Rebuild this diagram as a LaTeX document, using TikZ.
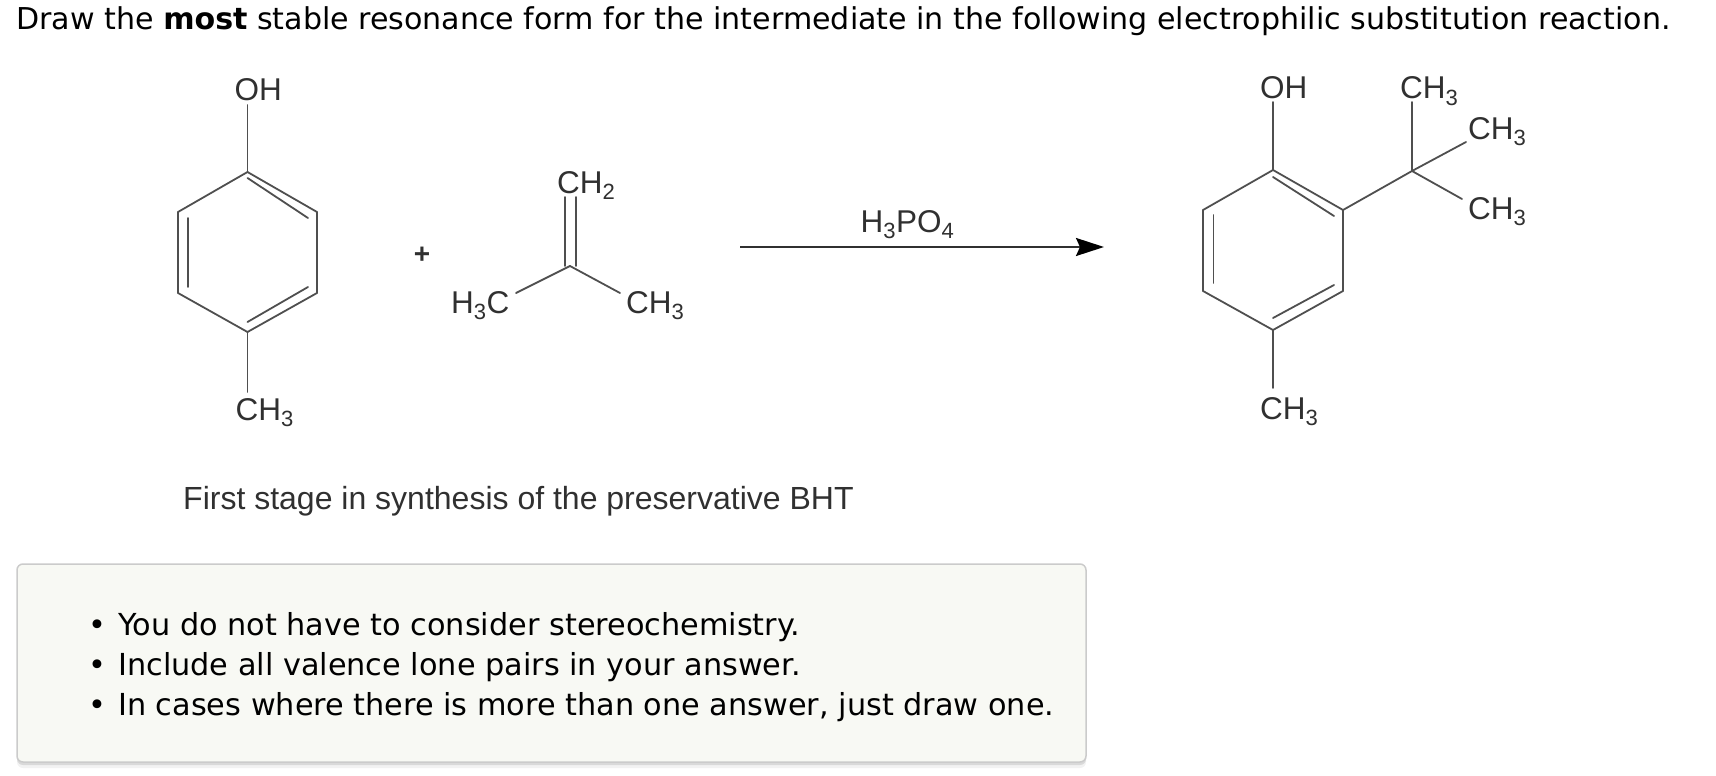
\documentclass[tikz,border=0pt]{standalone}
\usepackage{fontspec}
\setmainfont{DejaVu Sans}
\newfontfamily\chemfamily{Liberation Sans}
\usetikzlibrary{arrows.meta,shadows}
\definecolor{chemgray}{HTML}{303030}
\definecolor{panelfill}{HTML}{F8F9F4}
\definecolor{panelline}{HTML}{CBCBCB}
\tikzstyle{bond} = [draw, line width=1.8pt, -, chemgray!85, line cap=round]
\tikzstyle{chemlabel} = [anchor=base west, inner sep=0pt, text=chemgray, font=\chemfamily\fontsize{31.5}{36}\selectfont]
\tikzstyle{bodytext} = [anchor=base west, inner sep=0pt, text=black, font=\fontsize{30.3}{36}\selectfont]
\tikzstyle{panel} = [draw=panelline, line width=1.5pt, fill=panelfill, rounded corners=6pt, drop shadow={shadow xshift=0pt, shadow yshift=-6pt, opacity=0.05, fill=black}, drop shadow={shadow xshift=0pt, shadow yshift=-3pt, opacity=0.10, fill=black}]
\begin{document}
\begin{tikzpicture}[x=1pt,y=-1pt]
       \useasboundingbox (0,0) rectangle (1716,776);
       % panel and texts
       \path[panel] (17,564) rectangle (1086,762);
       \node[bodytext, font=\fontsize{30.08}{36}\selectfont] (title) at (16,30) {Draw the \textbf{most} stable resonance form for the intermediate in the following electrophilic substitution reaction.};
       \node[chemlabel, font=\chemfamily\fontsize{32}{36}\selectfont] (caption) at (183,509) {First stage in synthesis of the preservative BHT};
       \foreach \pos/\name/\txt in {{(118,635)/hinta/You do not have to consider stereochemistry.}, {(118,675)/hintb/Include all valence lone pairs in your answer.}, {(118,715)/hintc/In cases where there is more than one answer{,} just draw one.}} {
           \node[bodytext] (\name) at \pos {\txt};
           \node[bodytext, anchor=base east] (\name dot) at ([xshift=-11pt]\name.base west) {•};
       }
       % atom labels
       \foreach \pos/\name/\txt in {{(234.5,100)/ohleft/OH}, {(235.5,420)/meleft/CH\textsubscript{3}}, {(557,193)/methylene/CH\textsubscript{2}}, {(451,313)/mea/H\textsubscript{3}C}, {(626,313)/meb/CH\textsubscript{3}}, {(860.5,232)/acid/H\textsubscript{3}PO\textsubscript{4}}, {(1260,99)/ohright/OH}, {(1400,99)/butc/CH\textsubscript{3}}, {(1468,139)/butd/CH\textsubscript{3}}, {(1468,219)/bute/CH\textsubscript{3}}, {(1260,419)/meright/CH\textsubscript{3}}} {
           \node[chemlabel] (\name) at \pos {\txt};
       }
       \node[chemlabel, anchor=center, font=\chemfamily\bfseries\fontsize{28}{36}\selectfont] (plus) at (422,255) {+};
       % bond ends, left ring then alkene then right ring
       \foreach \pos/\name in {{(247.5,172)/la}, {(317,212)/lb}, {(317,293)/lc}, {(247.5,332)/ld}, {(178,293)/le}, {(178,212)/lf}, {(247.5,105)/lg}, {(247.5,392)/lh}, {(247.5,178)/lia}, {(308,218)/lib}, {(188,218)/lic}, {(188,287)/lid}, {(308,287)/lie}, {(247.5,322)/lif}, {(570,266)/aa}, {(565,197)/ab}, {(576,197)/ac}, {(565,266)/ad}, {(576,266)/ae}, {(516,293)/af}, {(620,293)/ag}, {(1273,170)/ra}, {(1343,210)/rb}, {(1343,291)/rc}, {(1273,330)/rd}, {(1203,291)/re}, {(1203,210)/rf}, {(1273,102)/rg}, {(1273,388)/rh}, {(1273,177)/ria}, {(1334,216)/rib}, {(1213.5,215)/ric}, {(1213.5,283)/rid}, {(1334,285)/rie}, {(1273,318)/rif}, {(1412,171)/q}, {(1412,102)/qa}, {(1466,142)/qb}, {(1462,199)/qc}} {
           \node[coordinate] (\name) at \pos {};
       }
       \coordinate (arrowtail) at (740,247);
       \coordinate (arrowtip) at (1104,247);
       \foreach \source/\sink in {la/lb, lb/lc, lc/ld, ld/le, le/lf, lf/la, la/lg, ld/lh, lia/lib, lic/lid, lie/lif, ab/ad, ac/ae, aa/af, aa/ag, ra/rb, rb/rc, rc/rd, rd/re, re/rf, rf/ra, ra/rg, rd/rh, ria/rib, ric/rid, rie/rif, rb/q, q/qa, q/qb, q/qc} {
           \path[bond] (\source) -- (\sink);
       }
       \draw[line width=2.2pt, chemgray, -{Stealth[length=28pt,width=18pt,inset=4pt,black]}] (arrowtail) -- (arrowtip);
\end{tikzpicture}
\end{document}
